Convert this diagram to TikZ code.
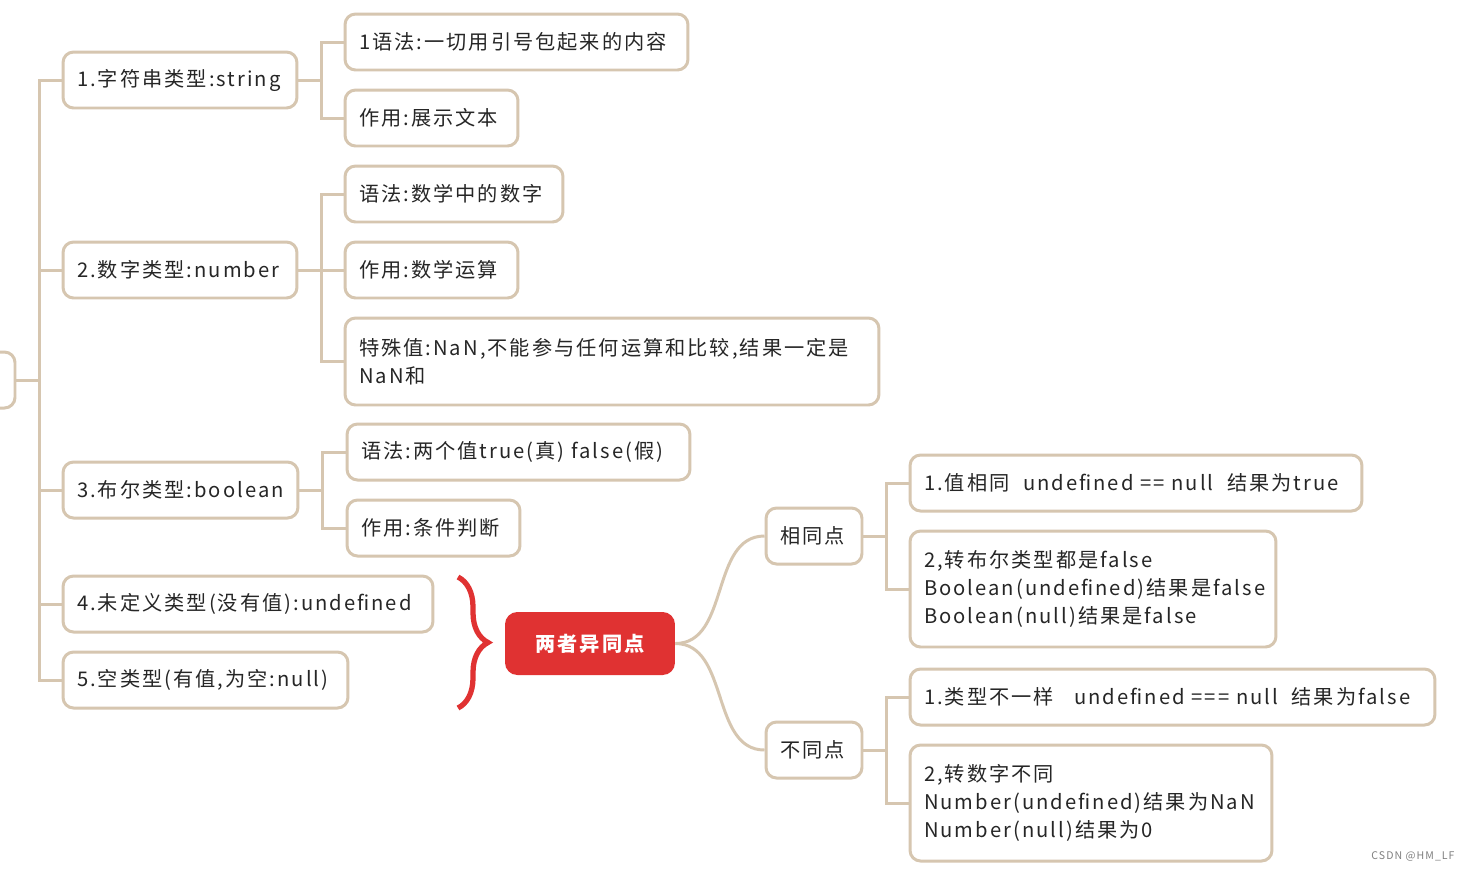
\documentclass[tikz,border=0pt]{standalone}
\usepackage{fontspec}
\setmainfont{Noto Sans CJK SC}[LetterSpace=10]
\usetikzlibrary{decorations.pathreplacing}
\definecolor{tan}{HTML}{D6C6B0}
\definecolor{mapred}{HTML}{E03232}
\tikzset{
  itemBox/.style={draw=tan, line width=1.7pt, rounded corners=6pt, fill=white,
    inner xsep=0.28cm, inner ysep=0pt, minimum height=1.12cm, align=left,
    font=\fontsize{11.5}{16}\selectfont, text=black!85},
  treeEdge/.style={draw=tan, line width=1.7pt}
}
\begin{document}
\begin{tikzpicture}[x=0.02cm, y=-0.02cm]
  \clip (0,0) rectangle (1466,870);
  \fill[white] (0,0) rectangle (1466,870);
  % root (cut at the left)
  \node[itemBox, minimum width=1.0cm] (root) at (-10,380) {};
  % first level
  \node[itemBox, text width=4.12cm] (str) at (180,80) {1.字符串类型:string};
  \node[itemBox, text width=4.12cm] (num) at (180,270) {2.数字类型:number};
  \node[itemBox, text width=4.14cm] (bool) at (180.5,490) {3.布尔类型:boolean};
  \node[itemBox, text width=6.84cm] (undef) at (248,604) {4.未定义类型(没有值):undefined};
  \node[itemBox, text width=5.14cm] (null) at (205.5,680) {5.空类型(有值,为空:null)};
  % second level
  \node[itemBox, text width=6.30cm] (strA) at (516.5,42) {1语法:一切用引号包起来的内容};
  \node[itemBox, text width=2.90cm] (strB) at (431.5,118) {作用:展示文本};
  \node[itemBox, text width=3.80cm] (numA) at (454,194) {语法:数学中的数字};
  \node[itemBox, text width=2.90cm] (numB) at (431.5,270) {作用:数学运算};
  \node[itemBox, text width=10.12cm, minimum height=1.74cm] (numC) at (612,361.5)
    {特殊值:NaN,不能参与任何运算和比较,结果一定是\\NaN和};
  \node[itemBox, text width=6.30cm] (boolA) at (518.5,452) {语法:两个值true(真) false(假)};
  \node[itemBox, text width=2.90cm] (boolB) at (433.5,528) {作用:条件判断};
  % compare part
  \draw[mapred, line width=3pt, decorate, decoration={brace, amplitude=0.6cm}]
    (458,577) -- (458,708);
  \node[fill=mapred, rounded corners=7pt, minimum width=3.4cm, minimum height=1.26cm,
    text=white, font=\fontsize{11.5}{14}\selectfont\bfseries] (cmp) at (590,643.5) {两者异同点};
  \node[itemBox, text width=1.36cm] (same) at (814,536) {相同点};
  \node[itemBox, text width=1.36cm] (diff) at (814,750) {不同点};
  \node[itemBox, text width=8.48cm] (sameA) at (1136,483) {1.值相同\ \ undefined == null\ \ 结果为true};
  \node[itemBox, text width=6.76cm, minimum height=2.32cm] (sameB) at (1093,589)
    {2,转布尔类型都是false\\Boolean(undefined)结果是false\\Boolean(null)结果是false};
  \node[itemBox, text width=9.94cm] (diffA) at (1172.5,697) {1.类型不一样\ \ \ undefined === null\ \ 结果为false};
  \node[itemBox, text width=6.68cm, minimum height=2.32cm] (diffB) at (1091,803)
    {2,转数字不同\\Number(undefined)结果为NaN\\Number(null)结果为0};
  % connectors
  \foreach \kid in {str,num,bool,undef,null}
    \draw[treeEdge] (root.east) -- ++(23,0) |- (\kid.west);
  \foreach \kid in {strA,strB}
    \draw[treeEdge] (str.east) -- ++(23,0) |- (\kid.west);
  \foreach \kid in {numA,numB,numC}
    \draw[treeEdge] (num.east) -- ++(23,0) |- (\kid.west);
  \foreach \kid in {boolA,boolB}
    \draw[treeEdge] (bool.east) -- ++(23,0) |- (\kid.west);
  \foreach \kid in {sameA,sameB}
    \draw[treeEdge] (same.east) -- ++(23,0) |- (\kid.west);
  \foreach \kid in {diffA,diffB}
    \draw[treeEdge] (diff.east) -- ++(23,0) |- (\kid.west);
  \draw[treeEdge] (cmp.east) to[out=0, in=180] (same.west);
  \draw[treeEdge] (cmp.east) to[out=0, in=180] (diff.west);
  \node[text=gray, font=\fontsize{6}{7}\selectfont] (mark) at (1413,856) {CSDN @HM\_LF};
\end{tikzpicture}
\end{document}
